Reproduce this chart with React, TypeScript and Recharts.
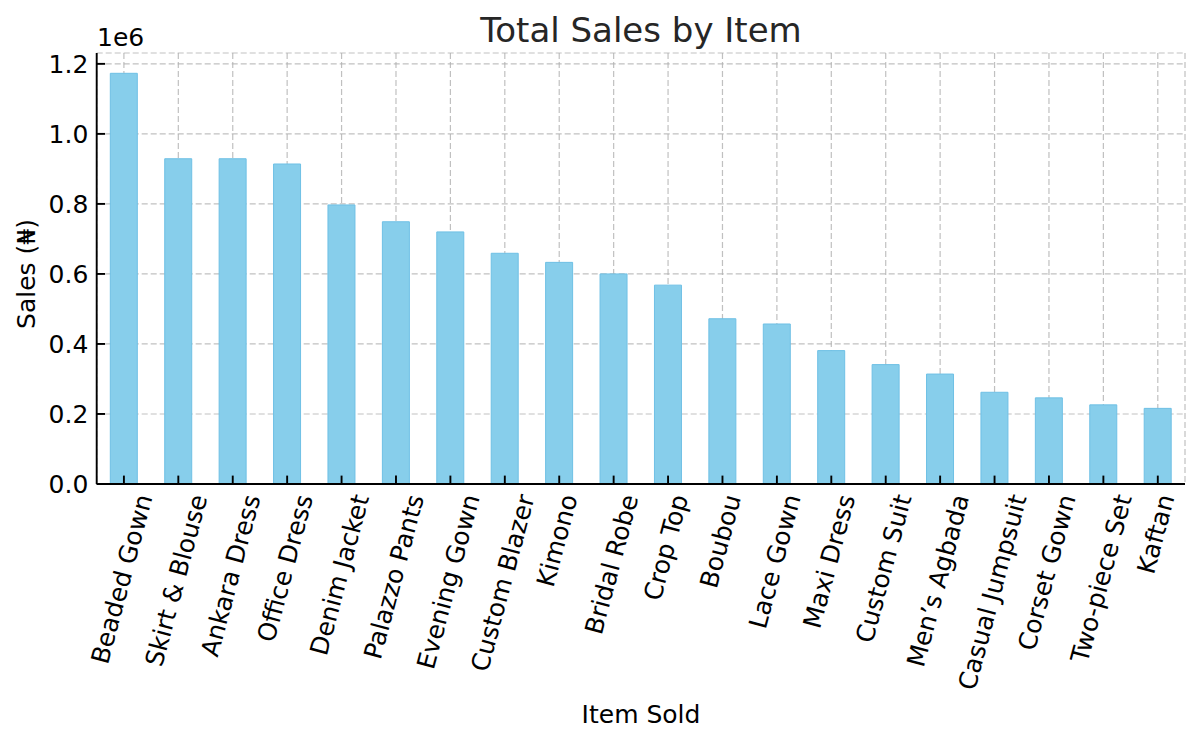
import React from 'react';
import { BarChart, Bar, XAxis, YAxis, CartesianGrid } from 'recharts';

// item names in the order they are plotted (sorted by sales, descending)
const items = [
  'Beaded Gown', 'Skirt & Blouse', 'Ankara Dress', 'Office Dress', 'Denim Jacket',
  'Palazzo Pants', 'Evening Gown', 'Custom Blazer', 'Kimono', 'Bridal Robe',
  'Crop Top', 'Boubou', 'Lace Gown', 'Maxi Dress', 'Custom Suit',
  'Men\u2019s Agbada', 'Casual Jumpsuit', 'Corset Gown', 'Two-piece Set', 'Kaftan',
];

// total sales in naira
const sales = [
  1173000, 929000, 929000, 914000, 797000,
  749000, 720000, 659000, 633000, 600000,
  568000, 472000, 457000, 381000, 341000,
  314000, 262000, 246000, 226000, 216000,
];

const yTicks = [0, 200000, 400000, 600000, 800000, 1000000, 1200000];
const yMax = 1231000;

const data = items.map((item, i) => ({ item, sales: sales[i] }));

const FONT = '"DejaVu Sans", sans-serif';
const TICK_FS = 25;
const PAD = 8.4;
const ROT = 75;

let ctx: CanvasRenderingContext2D | null = null;
function textWidth(s: string) {
  if (!ctx) ctx = document.createElement('canvas').getContext('2d');
  if (!ctx) return s.length * TICK_FS * 0.6;
  ctx.font = `${TICK_FS}px "DejaVu Sans"`;
  return ctx.measureText(s).width;
}

// rotated label, box centred on the tick and hanging below the axis (like mpl rotation=75)
function ItemTick(props: any) {
  const { x, y, payload } = props;
  const rad = (ROT * Math.PI) / 180;
  const L = textWidth(payload.value);
  const boxH = L * Math.sin(rad) + TICK_FS * Math.cos(rad);
  const cy = y + PAD + boxH / 2;
  return (
    <g>
      <line x1={x} y1={y} x2={x} y2={y - PAD} stroke="#000" strokeWidth={1.9} />
      <text
        transform={`translate(${x},${cy}) rotate(${-ROT})`}
        textAnchor="middle"
        dy={0.26 * TICK_FS}
        fontSize={TICK_FS}
        fontFamily={FONT}
        fill="#000"
      >
        {payload.value}
      </text>
    </g>
  );
}

function SalesTick(props: any) {
  const { x, y, payload } = props;
  return (
    <g>
      <line x1={x} y1={y} x2={x + PAD} y2={y} stroke="#000" strokeWidth={1.9} />
      <text
        x={x - PAD}
        y={y}
        dy={0.36 * TICK_FS}
        textAnchor="end"
        fontSize={TICK_FS}
        fontFamily={FONT}
        fill="#000"
      >
        {(payload.value / 1e6).toFixed(1)}
      </text>
    </g>
  );
}

export default function App() {
  return (
    <div style={{ margin: -8, width: 1200, height: 744, background: '#fff', position: 'relative' }}>
      <BarChart
        width={1200}
        height={744}
        data={data}
        margin={{ top: 53, right: 15, left: 0, bottom: 0 }}
        barCategoryGap="25%"
      >
        <XAxis
          dataKey="item"
          interval={0}
          height={260}
          tickSize={0}
          tickMargin={0}
          tickLine={false}
          tick={<ItemTick />}
          axisLine={{ stroke: '#000', strokeWidth: 1.9 }}
        />
        <YAxis
          width={96.7}
          domain={[0, yMax]}
          ticks={yTicks}
          tickSize={0}
          tickMargin={0}
          tickLine={false}
          tick={<SalesTick />}
          axisLine={{ stroke: '#000', strokeWidth: 1.9 }}
        />
        <Bar
          dataKey="sales"
          fill="#87CEEB"
          stroke="#6fc0e5"
          strokeWidth={1}
          isAnimationActive={false}
        />
        <CartesianGrid stroke="#b0b0b0" strokeOpacity={0.8} strokeDasharray="6 3" strokeWidth={1.2} />
      </BarChart>
      <svg
        width={1200}
        height={744}
        style={{ position: 'absolute', left: 0, top: 0, pointerEvents: 'none' }}
      >
        <text x={641} y={42} textAnchor="middle" fontSize={34} fontFamily={FONT} fill="#262626">
          Total Sales by Item
        </text>
        <text x={97} y={46} fontSize={TICK_FS} fontFamily={FONT} fill="#000">
          1e6
        </text>
        <text
          x={35}
          y={274}
          transform="rotate(-90, 35, 274)"
          textAnchor="middle"
          fontSize={25}
          fontFamily={FONT}
          fill="#000"
        >
          Sales (₦)
        </text>
        <text x={641} y={723} textAnchor="middle" fontSize={25} fontFamily={FONT} fill="#000">
          Item Sold
        </text>
      </svg>
    </div>
  );
}
